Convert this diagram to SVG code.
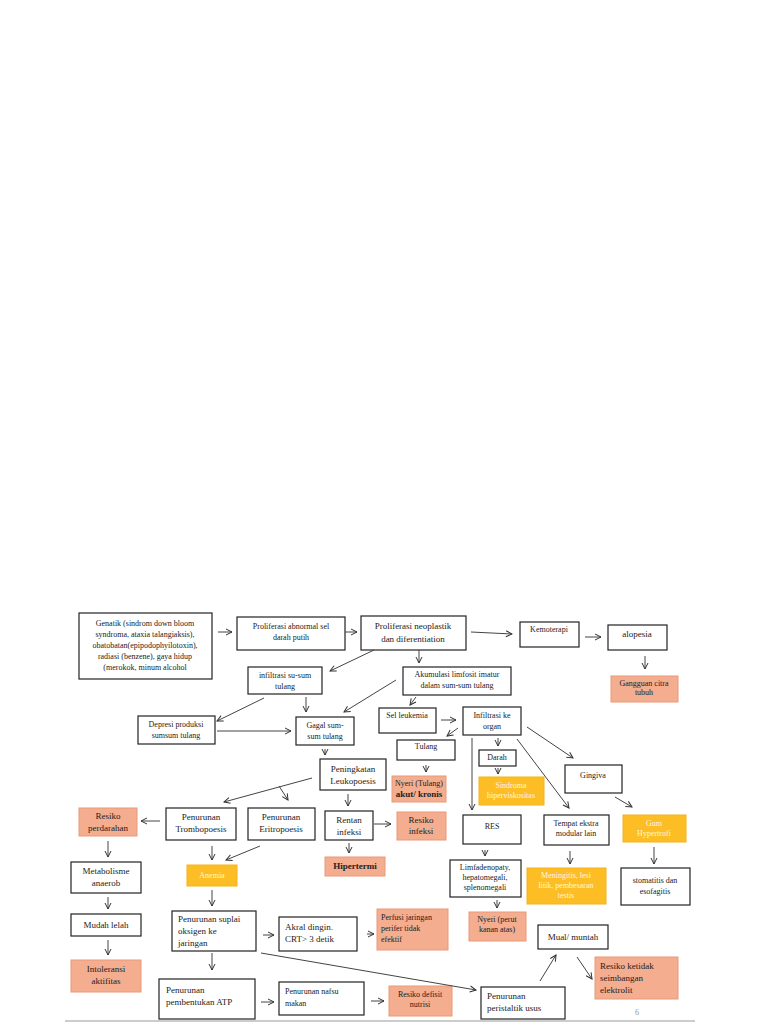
<svg xmlns="http://www.w3.org/2000/svg" width="768" height="1024" viewBox="0 0 768 1024">
<defs>
<marker id="a" markerWidth="8" markerHeight="8" refX="7" refY="4" orient="auto" markerUnits="userSpaceOnUse"><polyline points="1,1 7,4 1,7" fill="none" stroke="#333" stroke-width="1"/></marker>
</defs>
<style>
.b{fill:#fff;stroke:#222;stroke-width:1.2}
.o{fill:#f4ad8e;stroke:#e79a7a;stroke-width:1}
.y{fill:#fdbd24;stroke:#f5b31a;stroke-width:1}
text{font-family:"Liberation Serif",serif;font-size:8px;fill:#222;text-anchor:middle}
.w{fill:#fff6e0}
.l{text-anchor:start}
#c line,#c path{stroke:#444;stroke-width:1;fill:none;marker-end:url(#a)}
</style>
<rect width="768" height="1024" fill="#fff"/>
<line x1="65" y1="1021" x2="695" y2="1021" stroke="#bbb" stroke-width="1.5"/>
<text x="637" y="1015" style="fill:#999">6</text>
<g id="n1"><rect class="b" x="79" y="613" width="133" height="66"/><text x="145" y="626">Genatik (sindrom down bloom</text><text x="145" y="637">syndroma, ataxia talangiaksis),</text><text x="145" y="648">obatobatan(epipodophyilotoxin),</text><text x="145" y="659">radiasi (benzene), gaya hidup</text><text x="145" y="670">(merokok, minum alcohol</text></g>
<g id="n2"><rect class="b" x="237" y="617" width="108" height="33"/><text x="291" y="629">Proliferasi abnormal sel</text><text x="291" y="640">darah putih</text></g>
<g id="n3"><rect class="b" x="361" y="616" width="105" height="34"/><text x="413" y="629" style="font-size:9px">Proliferasi neoplastik</text><text x="413" y="642" style="font-size:9px">dan diferentiation</text></g>
<g id="n4"><rect class="b" x="520" y="622" width="59" height="25"/><text x="549" y="632">Kemoterapi</text></g>
<g id="n5"><rect class="b" x="608" y="625" width="59" height="25"/><text x="637" y="637" style="font-size:9px">alopesia</text></g>
<g id="n6"><rect class="o" x="611" y="676" width="67" height="26"/><text x="644" y="686">Gangguan citra</text><text x="644" y="695">tubuh</text></g>
<g id="n7"><rect class="b" x="248" y="667" width="74" height="27"/><text x="285" y="678">infiltrasi su-sum</text><text x="285" y="689">tulang</text></g>
<g id="n8"><rect class="b" x="403" y="667" width="108" height="28"/><text x="457" y="677">Akumulasi limfosit imatur</text><text x="457" y="688">dalam sum-sum tulang</text></g>
<g id="n9"><rect class="b" x="138" y="716" width="77" height="28"/><text x="176" y="727">Depresi produksi</text><text x="176" y="738">sumsum tulang</text></g>
<g id="n10"><rect class="b" x="296" y="717" width="58" height="28"/><text x="325" y="728">Gagal sum-</text><text x="325" y="739">sum tulang</text></g>
<g id="n11"><rect class="b" x="379" y="708" width="57" height="25"/><text x="407" y="718">Sel leukemia</text></g>
<g id="n12"><rect class="b" x="463" y="707" width="58" height="28"/><text x="492" y="718">Infiltrasi ke</text><text x="492" y="729">organ</text></g>
<g id="n13"><rect class="b" x="397" y="740" width="58" height="20"/><text x="426" y="749">Tulang</text></g>
<g id="n14"><rect class="b" x="479" y="750" width="37" height="16"/><text x="497" y="760">Darah</text></g>
<g id="n15"><rect class="y" x="479" y="777" width="65" height="28"/><text class="w" x="511" y="788">Sindroma</text><text class="w" x="511" y="798">hiperviskositas</text></g>
<g id="n16"><rect class="o" x="392" y="776" width="54" height="26"/><text x="419" y="786">Nyeri (Tulang)</text><text x="419" y="797" style="font-size:9px;font-weight:bold">akut/ kronis</text></g>
<g id="n17"><rect class="b" x="565" y="765" width="57" height="28"/><text x="593" y="778">Gingiva</text></g>
<g id="n18"><rect class="b" x="320" y="759" width="66" height="31"/><text x="353" y="772" style="font-size:9px">Peningkatan</text><text x="353" y="784" style="font-size:9px">Leukopoesis</text></g>
<g id="n19"><rect class="o" x="79" y="808" width="58" height="28"/><text x="108" y="819" style="font-size:9px">Resiko</text><text x="108" y="831" style="font-size:9px">perdarahan</text></g>
<g id="n20"><rect class="b" x="166" y="808" width="70" height="32"/><text x="201" y="820" style="font-size:9px">Penurunan</text><text x="201" y="832" style="font-size:9px">Trombopoesis</text></g>
<g id="n21"><rect class="b" x="248" y="808" width="67" height="32"/><text x="281" y="820" style="font-size:9px">Penurunan</text><text x="281" y="832" style="font-size:9px">Eritropoesis</text></g>
<g id="n22"><rect class="b" x="325" y="811" width="48" height="29"/><text x="349" y="823" style="font-size:9px">Rentan</text><text x="349" y="835" style="font-size:9px">infeksi</text></g>
<g id="n23"><rect class="o" x="397" y="812" width="49" height="28"/><text x="421" y="823" style="font-size:9px">Resiko</text><text x="421" y="834" style="font-size:9px">infeksi</text></g>
<g id="n24"><rect class="o" x="325" y="857" width="60" height="19"/><text x="355" y="869" style="font-size:9px;font-weight:bold">Hipertermi</text></g>
<g id="n25"><rect class="b" x="71" y="862" width="70" height="31"/><text x="106" y="874" style="font-size:9px">Metabolisme</text><text x="106" y="886" style="font-size:9px">anaerob</text></g>
<g id="n26"><rect class="y" x="187" y="865" width="50" height="21"/><text class="w" x="212" y="878">Anemia</text></g>
<g id="n27"><rect class="b" x="463" y="815" width="58" height="29"/><text x="492" y="829">RES</text></g>
<g id="n28"><rect class="b" x="544" y="815" width="65" height="30"/><text x="576" y="826">Tempat ekstra</text><text x="576" y="836">modular lain</text></g>
<g id="n29"><rect class="y" x="623" y="815" width="63" height="27"/><text class="w" x="654" y="826">Gum</text><text class="w" x="654" y="836">Hypertrofi</text></g>
<g id="n30"><rect class="b" x="450" y="860" width="71" height="37"/><text x="485" y="870">Limfadenopaty,</text><text x="485" y="880">hepatomegali,</text><text x="485" y="890">splenomegali</text></g>
<g id="n31"><rect class="y" x="527" y="868" width="79" height="36"/><text class="w" x="566" y="878">Meningitis, lesi</text><text class="w" x="566" y="888">litik, pembesaran</text><text class="w" x="566" y="898">testis</text></g>
<g id="n32"><rect class="b" x="621" y="868" width="69" height="37"/><text x="655" y="883">stomatitis dan</text><text x="655" y="894">esofagitis</text></g>
<g id="n33"><rect class="o" x="469" y="912" width="57" height="29"/><text x="497" y="922">Nyeri (perut</text><text x="497" y="932">kanan atas)</text></g>
<g id="n34"><rect class="b" x="538" y="925" width="70" height="24"/><text x="573" y="940" style="font-size:9px">Mual/ muntah</text></g>
<g id="n35"><rect class="o" x="595" y="957" width="83" height="42"/><text class="l" x="600" y="969" style="font-size:9px">Resiko ketidak</text><text class="l" x="600" y="981" style="font-size:9px">seimbangan</text><text class="l" x="600" y="993" style="font-size:9px">elektrolit</text></g>
<g id="n36"><rect class="b" x="71" y="914" width="70" height="22"/><text x="106" y="928" style="font-size:9px">Mudah lelah</text></g>
<g id="n37"><rect class="o" x="71" y="960" width="70" height="32"/><text x="106" y="972" style="font-size:9px">Intoleransi</text><text x="106" y="984" style="font-size:9px">aktifitas</text></g>
<g id="n38"><rect class="b" x="172" y="911" width="84" height="40"/><text class="l" x="178" y="922" style="font-size:9px">Penurunan suplai</text><text class="l" x="178" y="934" style="font-size:9px">oksigen ke</text><text class="l" x="178" y="946" style="font-size:9px">jaringan</text></g>
<g id="n39"><rect class="b" x="279" y="917" width="78" height="34"/><text class="l" x="285" y="930" style="font-size:9px">Akral dingin.</text><text class="l" x="285" y="942" style="font-size:9px">CRT&gt; 3 detik</text></g>
<g id="n40"><rect class="o" x="377" y="909" width="71" height="41"/><text class="l" x="381" y="920">Perfusi jaringan</text><text class="l" x="381" y="931">perifer tidak</text><text class="l" x="381" y="942">efektif</text></g>
<g id="n41"><rect class="b" x="159" y="979" width="96" height="40"/><text class="l" x="166" y="993" style="font-size:9px">Penurunan</text><text class="l" x="166" y="1005" style="font-size:9px">pembentukan ATP</text></g>
<g id="n42"><rect class="b" x="279" y="982" width="85" height="33"/><text class="l" x="285" y="994">Penurunan nafsu</text><text class="l" x="285" y="1006">makan</text></g>
<g id="n43"><rect class="o" x="389" y="986" width="63" height="30"/><text x="420" y="997">Resiko defisit</text><text x="420" y="1007">nutrisi</text></g>
<g id="n44"><rect class="b" x="481" y="987" width="84" height="32"/><text class="l" x="487" y="999" style="font-size:9px">Penurunan</text><text class="l" x="487" y="1011" style="font-size:9px">peristaltik usus</text></g>
<g id="c">
<line x1="218" y1="632" x2="232" y2="632"/>
<line x1="345" y1="632" x2="357" y2="632"/>
<line x1="471" y1="632" x2="512" y2="634"/>
<line x1="585" y1="637" x2="601" y2="637"/>
<line x1="645" y1="656" x2="645" y2="669"/>
<line x1="374" y1="650" x2="330" y2="671"/>
<line x1="419" y1="650" x2="419" y2="663"/>
<line x1="264" y1="698" x2="217" y2="721"/>
<line x1="306" y1="697" x2="306" y2="712"/>
<line x1="396" y1="680" x2="344" y2="712"/>
<line x1="217" y1="731" x2="291" y2="731"/>
<line x1="416" y1="697" x2="410" y2="705"/>
<line x1="441" y1="720" x2="456" y2="720"/>
<line x1="458" y1="728" x2="447" y2="736"/>
<line x1="426" y1="765" x2="426" y2="772"/>
<line x1="498" y1="738" x2="498" y2="746"/>
<line x1="498" y1="768" x2="498" y2="774"/>
<line x1="527" y1="727" x2="573" y2="758"/>
<line x1="472" y1="738" x2="472" y2="810"/>
<line x1="517" y1="739" x2="569" y2="808"/>
<line x1="615" y1="797" x2="632" y2="807"/>
<line x1="325" y1="749" x2="325" y2="755"/>
<line x1="312" y1="778" x2="224" y2="802"/>
<line x1="279" y1="786" x2="288" y2="800"/>
<line x1="348" y1="794" x2="348" y2="806"/>
<line x1="160" y1="821" x2="141" y2="821"/>
<line x1="374" y1="824" x2="391" y2="824"/>
<line x1="349" y1="843" x2="349" y2="853"/>
<line x1="108" y1="841" x2="108" y2="857"/>
<line x1="212" y1="846" x2="212" y2="860"/>
<line x1="260" y1="846" x2="226" y2="860"/>
<line x1="485" y1="850" x2="485" y2="856"/>
<line x1="570" y1="851" x2="570" y2="864"/>
<line x1="654" y1="847" x2="654" y2="864"/>
<line x1="497" y1="900" x2="497" y2="908"/>
<line x1="108" y1="897" x2="108" y2="909"/>
<line x1="108" y1="940" x2="108" y2="955"/>
<line x1="212" y1="890" x2="212" y2="906"/>
<line x1="263" y1="935" x2="274" y2="935"/>
<line x1="367" y1="934" x2="374" y2="934"/>
<line x1="212" y1="953" x2="212" y2="970"/>
<line x1="261" y1="953" x2="476" y2="990"/>
<line x1="261" y1="1002" x2="274" y2="1002"/>
<line x1="371" y1="1001" x2="384" y2="1001"/>
<line x1="540" y1="981" x2="556" y2="955"/>
<line x1="577" y1="957" x2="592" y2="979"/>
</g>
</svg>
